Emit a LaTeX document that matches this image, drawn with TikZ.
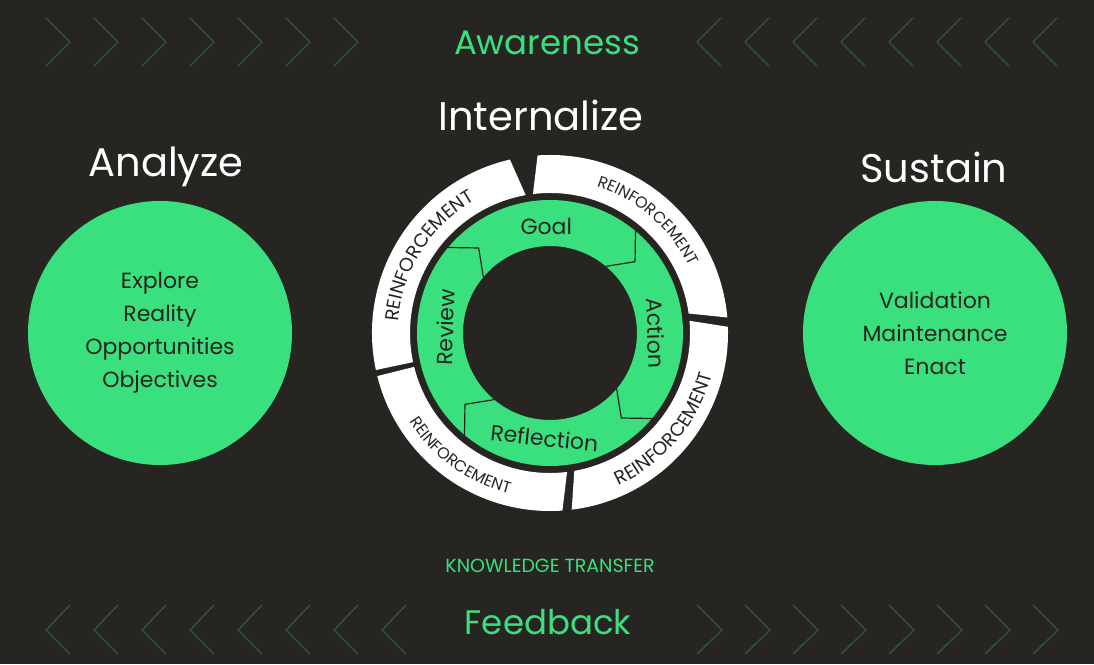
\documentclass[tikz,border=0pt]{standalone}
\usepackage{fontspec}
\setmainfont{Poppins}
\usetikzlibrary{decorations.text}
\definecolor{bg}{HTML}{262521}
\definecolor{gr}{HTML}{3BE07E}
\definecolor{chev}{HTML}{2B5A3B}
\begin{document}
\begin{tikzpicture}[x=1pt,y=1pt,
  chv/.style={draw=chev,line width=1.3pt},
  title/.style={text=white,font=\fontsize{40}{44}\selectfont},
  gtitle/.style={text=gr,font=\fontsize{34}{38}\selectfont},
  ctext/.style={text=bg,align=center,font=\fontsize{22}{33}\selectfont},
  bigc/.style={circle,fill=gr,minimum size=264pt,inner sep=0},
  seg/.style={fill=white},
  lbl/.style={text=bg,font=\fontsize{22}{24}\selectfont},
  divl/.style={draw=bg,line width=1.2pt}]
\fill[bg] (0,0) rectangle (1094,664);
\useasboundingbox (0,0) rectangle (1094,664);
% chevrons
\foreach \k in {0,...,6}{\draw[chv] (46+48*\k,646)--(70+48*\k,622)--(46+48*\k,598);}
\foreach \k in {0,...,7}{\draw[chv] (721+48*\k,646)--(697+48*\k,622)--(721+48*\k,598);}
\foreach \k in {0,...,7}{\draw[chv] (70+48*\k,59)--(46+48*\k,34)--(70+48*\k,10);}
\foreach \k in {0,...,7}{\draw[chv] (697+48*\k,59)--(722+48*\k,34)--(697+48*\k,10);}
% titles
\node[gtitle] (aw) at (547,621) {Awareness};
\node[gtitle] (fb) at (548,42) {Feedback};
\node[text=gr,font=\fontsize{19}{22}\selectfont] (kt) at (550,98) {KNOWLEDGE TRANSFER};
\node[title] (in) at (541,549) {Internalize};
\node[title] (an) at (166,497) {Analyze};
\node[title] (su) at (934,497) {Sustain};
% side circles
\node[bigc] (lc) at (160,331) {};
\node[ctext] (lt) at (lc) {Explore\\Reality\\Opportunities\\Objectives};
\node[bigc] (rc) at (935,331) {};
\node[ctext] (rt) at (rc) {Validation\\Maintenance\\Enact};
% central cycle
\coordinate (c) at (550,331);
\begin{scope}[shift={(c)}]
\fill[seg] (100:140) arc (100:192:140) -- (192:178) arc (192:103:178) -- cycle;
\fill[seg] (97:140) arc (97:8:140) -- (5:178) arc (5:94:178) -- cycle;
\fill[seg] (5:140) arc (5:-80:140) -- (-83:178) arc (-83:2:178) -- cycle;
\fill[seg] (-83:140) arc (-83:-166:140) -- (-166:178) arc (-166:-86:178) -- cycle;
\fill[gr,even odd rule] (0,0) circle (133) (0,0) circle (87);
\foreach \a in {140,50,-40,-130}{\draw[divl] (\a:87)--(\a-10:111)--(\a:133);}
\node[lbl] (goal) at (92:107) {Goal};
\node[lbl,rotate=-88] (act) at (0:106) {Action};
\node[lbl,rotate=-6] (ref) at (-93:105) {Reflection};
\node[lbl,rotate=88] (rev) at (177:105) {Review};
\path[postaction={decorate},decoration={text along path,text align=center,
  text={|\fontsize{19}{22}\selectfont\color{bg}|REINFORCEMENT}}] (194:152) arc (194:101:152);
\path[postaction={decorate},decoration={text along path,text align=center,
  text={|\fontsize{16}{18}\selectfont\color{bg}|REINFORCEMENT}}] (94:154) arc (94:4:154);
\path[postaction={decorate},decoration={text along path,text align=center,
  text={|\fontsize{19}{22}\selectfont\color{bg}|REINFORCEMENT}}] (-84:167) arc (-84:4:167);
\path[postaction={decorate},decoration={text along path,text align=center,
  text={|\fontsize{16}{18}\selectfont\color{bg}|REINFORCEMENT}}] (-168:166) arc (-168:-84:166);
\end{scope}
\end{tikzpicture}
\end{document}
